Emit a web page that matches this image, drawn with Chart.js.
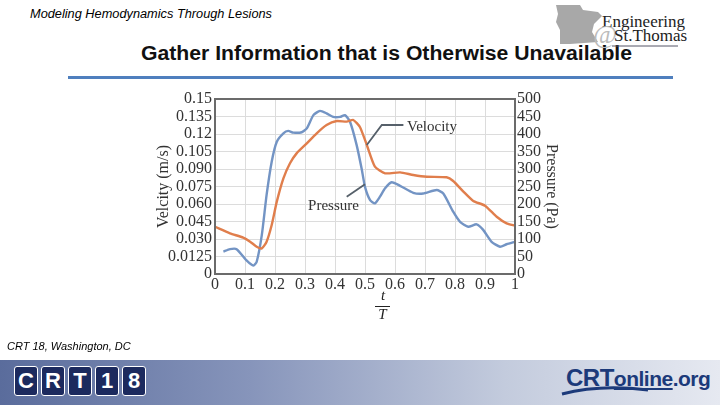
<!DOCTYPE html>
<html><head><meta charset="utf-8">
<script src="https://cdn.jsdelivr.net/npm/chart.js@4.4.1/dist/chart.umd.min.js"></script>
<style>
html,body{margin:0;padding:0;background:#fff;}
#wrap{position:relative;width:720px;height:405px;overflow:hidden;background:#fff;font-family:"Liberation Sans",sans-serif;}
#c{position:absolute;left:0;top:0;}
.abs{position:absolute;white-space:nowrap;}
</style></head><body>
<div id="wrap">
  <svg class="abs" style="left:0;top:0;" width="720" height="80">
    <text x="30" y="18" font-family="Liberation Sans" font-size="12.5" font-style="italic" fill="#000" textLength="242" lengthAdjust="spacingAndGlyphs">Modeling Hemodynamics Through Lesions</text>
    <text x="141" y="60" font-family="Liberation Sans" font-size="20" font-weight="bold" fill="#111" textLength="491" lengthAdjust="spacingAndGlyphs">Gather Information that is Otherwise Unavailable</text>
  </svg>
  <div class="abs" style="left:68px;top:76px;width:605px;height:3px;background:#4f7fbe;"></div>
  <svg class="abs" style="left:550px;top:2px;" width="160" height="48">
    <polygon points="6,3 30,3 33,8 48,10 52,14 44,22 42,30 48,40 20,42 10,42 10,28 6,20 8,12" fill="#a8a8a8"/>
    <text x="52" y="25" font-family="Liberation Serif" font-size="17" fill="#222">Engineering</text>
    <text x="43" y="41" font-family="Liberation Serif" font-size="26" font-style="italic" fill="#bbb">@</text>
    <text x="64" y="39" font-family="Liberation Serif" font-size="17" fill="#222">St.Thomas</text>
    <line x1="62" y1="44" x2="128" y2="44" stroke="#556" stroke-width="1"/>
  </svg>
  <canvas id="c" width="720" height="405"></canvas>
  <div class="abs" style="left:376px;top:287px;font-family:'Liberation Serif';font-style:italic;font-size:15px;color:#222;width:14px;text-align:center;">t</div>
  <div class="abs" style="left:375px;top:306px;width:15px;height:1px;background:#222;"></div>
  <div class="abs" style="left:375px;top:306px;font-family:'Liberation Serif';font-style:italic;font-size:15px;color:#222;width:15px;text-align:center;">T</div>
  <div class="abs" style="left:7px;top:340px;font-size:11px;font-style:italic;color:#000;">CRT 18, Washington, DC</div>
  <div class="abs" style="left:0;top:360px;width:720px;height:45px;background:linear-gradient(to right,#5a6c9c 0%,#8795bb 35%,#c3cbdd 70%,#e6e9f1 100%);"></div>
  <div class="abs" style="left:14px;top:366px;display:flex;gap:3px;">
    <div style="width:22px;height:28px;background:#1c2a5e;border:1px solid #fff;border-radius:3px;color:#fff;font:bold 22px 'Liberation Sans';text-align:center;line-height:28px;">C</div>
    <div style="width:22px;height:28px;background:#1c2a5e;border:1px solid #fff;border-radius:3px;color:#fff;font:bold 22px 'Liberation Sans';text-align:center;line-height:28px;">R</div>
    <div style="width:22px;height:28px;background:#1c2a5e;border:1px solid #fff;border-radius:3px;color:#fff;font:bold 22px 'Liberation Sans';text-align:center;line-height:28px;">T</div>
    <div style="width:22px;height:28px;background:#1c2a5e;border:1px solid #fff;border-radius:3px;color:#fff;font:bold 22px 'Liberation Sans';text-align:center;line-height:28px;">1</div>
    <div style="width:22px;height:28px;background:#1c2a5e;border:1px solid #fff;border-radius:3px;color:#fff;font:bold 22px 'Liberation Sans';text-align:center;line-height:28px;">8</div>
  </div>
  <div class="abs" style="left:566px;top:364px;font:bold 21px 'Liberation Sans';color:#1c3a7a;letter-spacing:-0.5px;"><span style="font-size:24px;">CRT</span><span style="text-decoration:underline;">online</span>.org</div>
  <svg class="abs" style="left:560px;top:384px;" width="90" height="14"><path d="M2,10 Q40,0 88,6" stroke="#1c3a7a" stroke-width="3" fill="none"/></svg>
</div>
<script>
// ---- data ----
const velT = [0,0.05,0.094,0.117,0.139,0.156,0.172,0.189,0.206,0.228,0.25,0.272,0.306,0.339,0.372,0.406,0.439,0.461,0.483,0.506,0.533,0.567,0.617,0.661,0.706,0.772,0.794,0.828,0.861,0.9,0.939,0.972,1.0];
const velV = [0.0405,0.0349,0.0311,0.0277,0.0234,0.022,0.0277,0.042,0.062,0.082,0.0949,0.1034,0.112,0.1206,0.1277,0.1311,0.1306,0.132,0.126,0.1106,0.092,0.0863,0.0871,0.0849,0.0834,0.0829,0.0797,0.0706,0.0626,0.0586,0.0491,0.0434,0.0414];
const presT = [0.028,0.05,0.072,0.106,0.128,0.139,0.156,0.172,0.189,0.206,0.228,0.244,0.261,0.289,0.306,0.328,0.35,0.372,0.394,0.417,0.433,0.45,0.472,0.489,0.5,0.517,0.533,0.55,0.567,0.589,0.617,0.661,0.694,0.739,0.761,0.794,0.817,0.844,0.872,0.894,0.922,0.95,0.972,1.0];
const presP = [64,71,71,38,24,35,111,226,321,378,402,409,404,405,416,454,466,459,449,449,454,435,369,300,249,211,202,221,245,262,252,232,230,240,230,178,149,135,142,126,92,78,85,92];
const xTickLabels = ['0','0.1','0.2','0.3','0.4','0.5','0.6','0.7','0.8','0.9','1'];
const velTickLabels = ['0','0.0125','0.030','0.045','0.060','0.075','0.090','0.105','0.12','0.135','0.15'];
const presTickLabels = ['0','50','100','150','200','250','300','350','400','450','500'];
const seriesNames = ['Velocity','Pressure'];
// annotation anchors in data units (t, velocity)
const velNote = {text:[0.64,0.126], line:[[0.506,0.1106],[0.556,0.1277],[0.628,0.1277]]};
const presNote = {text:[0.395,0.0583], line:[[0.439,0.0663],[0.5,0.077]]};

const serif = "'Liberation Serif', 'DejaVu Serif', serif";
const tickFont = {family: serif, size: 16};

const frame = {
  id:'frame',
  afterDatasetsDraw(chart){
    const {ctx, chartArea:a, scales:{x, y}} = chart;
    ctx.save();
    ctx.strokeStyle = '#6b6b6b'; ctx.lineWidth = 2;
    ctx.strokeRect(a.left, a.top, a.right-a.left, a.bottom-a.top);
    ctx.strokeStyle = '#56606a'; ctx.lineWidth = 1.8;
    [velNote, presNote].forEach((n)=>{
      ctx.beginPath();
      n.line.forEach((p,i)=>{ const px=x.getPixelForValue(p[0]), py=y.getPixelForValue(p[1]); i?ctx.lineTo(px,py):ctx.moveTo(px,py); });
      ctx.stroke();
    });
    ctx.fillStyle = '#333'; ctx.font = "15px " + serif; ctx.textBaseline = 'middle';
    ctx.textAlign = 'left';
    ctx.fillText(seriesNames[0], x.getPixelForValue(velNote.text[0]), y.getPixelForValue(velNote.text[1]));
    ctx.textAlign = 'center';
    ctx.fillText(seriesNames[1], x.getPixelForValue(presNote.text[0]), y.getPixelForValue(presNote.text[1]));
    ctx.restore();
  }
};

new Chart(document.getElementById('c'), {
  type: 'line',
  data: {
    datasets: [
      {label: seriesNames[0], data: velT.map((t,i)=>({x:t, y:velV[i]})), yAxisID:'y', borderColor:'#e07e4c', borderWidth:2.4, pointRadius:0, tension:0.2, fill:false},
      {label: seriesNames[1], data: presT.map((t,i)=>({x:t, y:presP[i]})), yAxisID:'y2', borderColor:'#7394c4', borderWidth:2.4, pointRadius:0, tension:0.2, fill:false}
    ]
  },
  options: {
    responsive:false, animation:false,
    layout:{padding:{left:154, right:159, top:99, bottom:111}},
    plugins:{legend:{display:false}, tooltip:{enabled:false}},
    scales:{
      x:{type:'linear', min:0, max:1,
        afterBuildTicks(s){ s.ticks = xTickLabels.map((_,i)=>({value:i/10})); },
        afterFit(s){ s.height = 20; },
        ticks:{callback:(v,i)=>xTickLabels[i], font:tickFont, color:'#333', padding:1, maxRotation:0, autoSkip:false},
        grid:{color:'#dcdcdc', lineWidth:1, drawTicks:false},
        border:{display:false}
      },
      y:{type:'linear', position:'left', min:0, max:0.15,
        afterBuildTicks(s){ s.ticks = velTickLabels.map((_,i)=>({value:i*0.015})); },
        afterFit(s){ s.width = 61; },
        ticks:{callback:(v,i)=>velTickLabels[i], font:tickFont, color:'#333', padding:3, autoSkip:false},
        title:{display:true, text:'Velcity (m/s)', font:tickFont, color:'#333', padding:{top:0,bottom:0}},
        grid:{color:'#dcdcdc', lineWidth:1, drawTicks:false},
        border:{display:false}
      },
      y2:{type:'linear', position:'right', min:0, max:500,
        afterBuildTicks(s){ s.ticks = presTickLabels.map((_,i)=>({value:i*50})); },
        afterFit(s){ s.width = 46; },
        ticks:{callback:(v,i)=>presTickLabels[i], font:tickFont, color:'#333', padding:2, autoSkip:false},
        title:{display:true, text:'Pressure (Pa)', font:tickFont, color:'#333', padding:{top:0,bottom:0}},
        grid:{display:false, drawTicks:false},
        border:{display:false}
      }
    }
  },
  plugins:[frame]
});
</script>
</body></html>
